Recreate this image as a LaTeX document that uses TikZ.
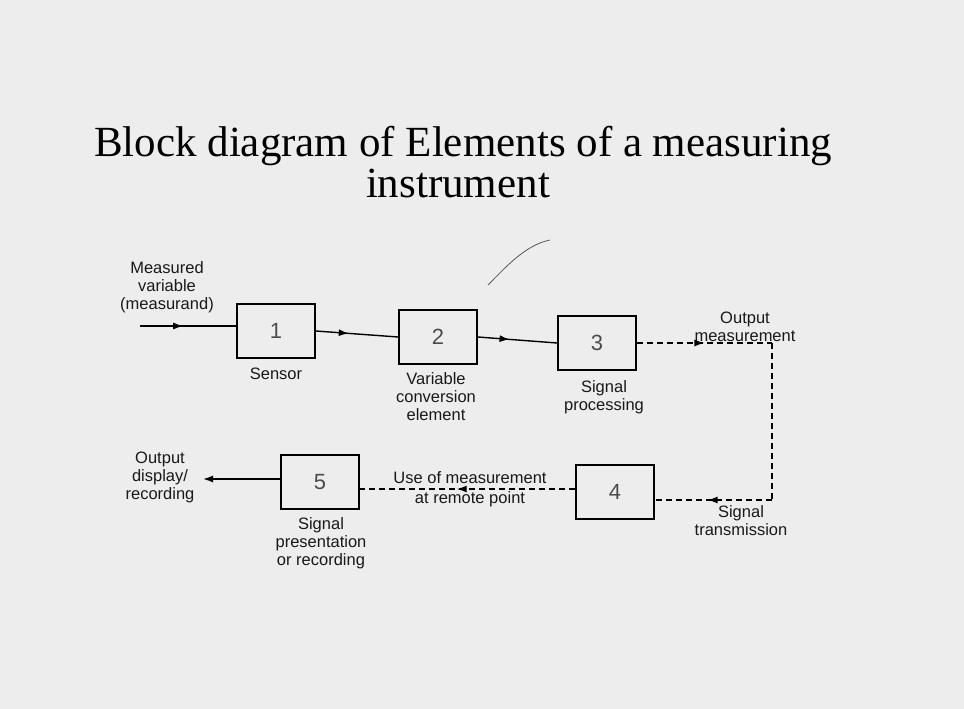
\documentclass[tikz,border=0pt]{standalone}
\usepackage{fontspec}
\setmainfont{Liberation Sans}
\newfontfamily\titlefont{Liberation Serif}
\usetikzlibrary{decorations.markings,arrows.meta}
\begin{document}
\begin{tikzpicture}[x=1pt,y=-1pt,
  blk/.style={draw,line width=1.8pt,minimum width=78pt,minimum height=54pt,inner sep=0pt,font=\fontsize{22}{22}\selectfont,text=black!70},
  lbl/.style={font=\fontsize{16.5}{18}\selectfont,align=center,text=black!90},
  conn/.style={line width=1.4pt},
  dconn/.style={line width=1.4pt,dash pattern=on 6pt off 4pt},
  midarrow/.style={postaction={decorate},decoration={markings,mark=at position #1 with {\arrow{Latex[length=10pt,width=7pt]}}}}]
\fill[gray!14] (0,0) rectangle (964,709);
\node[font=\titlefont\fontsize{43}{44}\selectfont] (t1) at (463,146) {Block diagram of Elements of a measuring};
\node[font=\titlefont\fontsize{43}{44}\selectfont] (t2) at (458,183) {instrument};
\node[blk] (b1) at (276,331) {1};
\node[blk] (b2) at (438,337) {2};
\node[blk] (b3) at (597,343) {3};
\node[blk] (b4) at (615,492) {4};
\node[blk] (b5) at (320,482) {5};
\coordinate (in) at (140,326);
\coordinate (c1) at (772,349);
\coordinate (c2) at (772,500);
\coordinate (out) at (203,479);
\node[lbl] (lin) at (167,287) {Measured\\variable\\(measurand)};
\node[lbl] (l1) at (276,374) {Sensor};
\node[lbl] (l2) at (436,397) {Variable\\conversion\\element};
\node[lbl] (l3) at (604,397) {Signal\\processing};
\node[lbl] (lo) at (745,327) {Output\\measurement};
\node[lbl] (lt) at (741,521) {Signal\\transmission};
\node[lbl] (l5) at (321,543) {Signal\\presentation\\or recording};
\node[lbl] (lu) at (470,489) {Use of measurement\\[2pt]at remote point};
\node[lbl] (ld) at (160,477) {Output\\display/\\recording};
\draw[conn,midarrow=0.45] (in) -- (b1.west |- in);
\draw[conn,midarrow=0.4] (b1.east) -- (b2.west);
\draw[conn,midarrow=0.4] (b2.east) -- (b3.west);
\draw[dconn,midarrow=0.5] (b3.east) -- (b3.east -| c1);
\draw[dconn] (b3.east -| c1) -- (c2);
\draw[dconn,midarrow=0.55] (c2) -- (b4.east |- c2);
\draw[conn,-{Latex[length=10pt,width=7pt]}] (b5.west |- out) -- (out);
\draw[dconn,midarrow=0.55] (b4.west |- 0,489) -- (b5.east |- 0,489);
\draw[gray!70!black,line width=0.8pt] (488,285) .. controls (505,268) and (525,245) .. (550,240);
\end{tikzpicture}
\end{document}
